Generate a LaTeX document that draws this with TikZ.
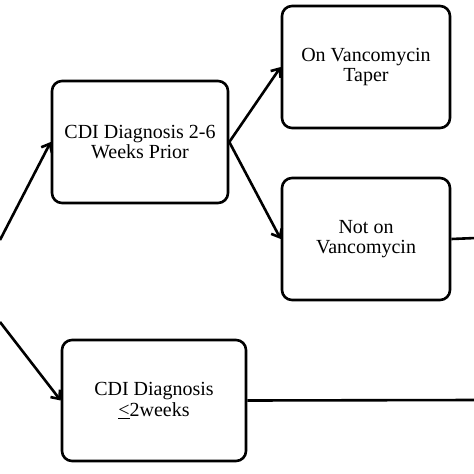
\documentclass[tikz,border=0pt]{standalone}
\usepackage{fontspec}
\setmainfont{Liberation Serif}
\usetikzlibrary{arrows.meta}
\tikzset{every path/.style={black,line width=2.6pt},
  stagebox/.style={draw,rounded corners=10pt,align=center,inner sep=0pt,
    font=\fontsize{20}{20.5}\selectfont},
  flow/.style={-{Straight Barb[length=7pt,width=12pt]}}}

\begin{document}
\begin{tikzpicture}[x=1pt,y=-1pt]
  \useasboundingbox (0,0) rectangle (474,474);
  \node[stagebox,minimum width=176pt,minimum height=122pt] (prior) at (140,142) {CDI Diagnosis 2-6\\Weeks Prior};
  \node[stagebox,minimum width=168pt,minimum height=122pt] (taper) at (366,67) {On Vancomycin\\Taper};
  \node[stagebox,minimum width=168pt,minimum height=122pt] (notvanc) at (366,239) {Not on\\Vancomycin};
  \node[stagebox,minimum width=184pt,minimum height=121pt] (recent) at (154,400.5) {CDI Diagnosis\\\underline{<}2weeks};
  \coordinate (in1) at (0,240);
  \coordinate (in2) at (0,322);
  \coordinate (out1) at (476,238);
  \coordinate (out2) at (476,400);
  \draw[flow] (in1) -- (prior.west);
  \draw[flow] (in2) -- (recent.west);
  \draw[flow] (prior.east) -- (taper.west);
  \draw[flow] (prior.east) -- (notvanc.west);
  \draw (notvanc.east) -- (out1);
  \draw (recent.east) -- (out2);
\end{tikzpicture}
\end{document}
